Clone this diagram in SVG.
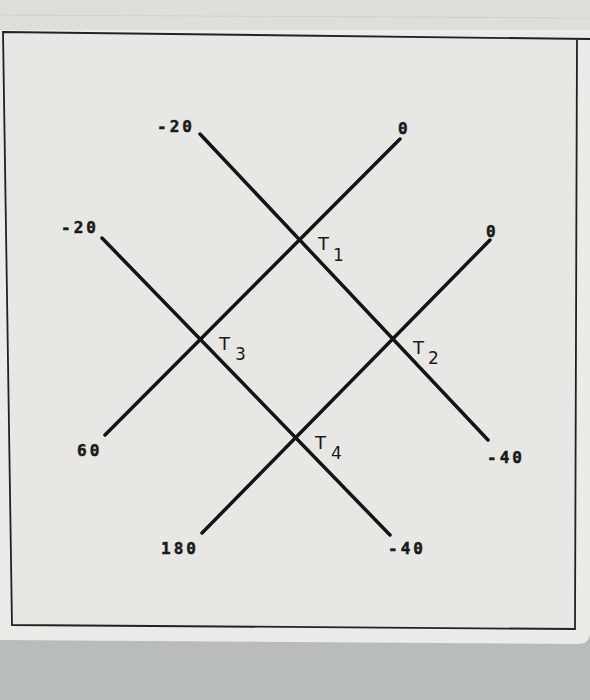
<svg xmlns="http://www.w3.org/2000/svg" width="590" height="700" viewBox="0 0 590 700">
<style>
.ln{stroke:#141414;stroke-width:3.5;stroke-linecap:round;fill:none}
.v{font-family:"DejaVu Sans Mono",monospace;font-weight:bold;font-size:16px;fill:#1a1a1a;letter-spacing:3px;stroke:#1a1a1a;stroke-width:0.5}
.t{font-family:"DejaVu Sans","Liberation Sans",sans-serif;font-size:18px;fill:#1a1a1a}
.s{font-family:"DejaVu Sans","Liberation Sans",sans-serif;font-size:17px;fill:#1a1a1a}
</style>
<rect width="590" height="700" fill="#b9bdba"/>
<path d="M0 0 H590 V632 Q590 644 578 644 L0 640 Z" fill="#ebebe8"/>
<rect x="0" y="0" width="590" height="30" fill="#dedfdb"/>
<line x1="0" y1="15" x2="590" y2="18" stroke="#cfd0cc" stroke-width="1"/>
<polygon points="3,32 577,38 575,628 12,625" fill="#e7e7e4"/>
<polyline points="590,39 3,32 12,625 575,629 577,38" fill="none" stroke="#222" stroke-width="1.8"/>
<g id="connectors">
<line class="ln" x1="200" y1="134" x2="488" y2="440"/>
<line class="ln" x1="102" y1="238" x2="390" y2="535"/>
<line class="ln" x1="400" y1="139" x2="105" y2="435"/>
<line class="ln" x1="490" y1="240" x2="202" y2="533"/>
</g>
<g id="end-top-left"><text class="v" x="157" y="132">-20</text></g>
<g id="end-top-right"><text class="v" x="398" y="134">0</text></g>
<g id="end-left"><text class="v" x="61" y="233">-20</text></g>
<g id="end-right"><text class="v" x="486" y="237">0</text></g>
<g id="end-bottom-left"><text class="v" x="77" y="456">60</text></g>
<g id="end-bottom-right"><text class="v" x="487" y="463">-40</text></g>
<g id="end-bottom-1"><text class="v" x="161" y="554">180</text></g>
<g id="end-bottom-2"><text class="v" x="388" y="554">-40</text></g>
<g id="T1"><text class="t" x="318" y="250">T</text><text class="s" x="333" y="261">1</text></g>
<g id="T2"><text class="t" x="413" y="354">T</text><text class="s" x="428" y="364">2</text></g>
<g id="T3"><text class="t" x="219" y="350">T</text><text class="s" x="235" y="360">3</text></g>
<g id="T4"><text class="t" x="315" y="449">T</text><text class="s" x="331" y="459">4</text></g>
</svg>
